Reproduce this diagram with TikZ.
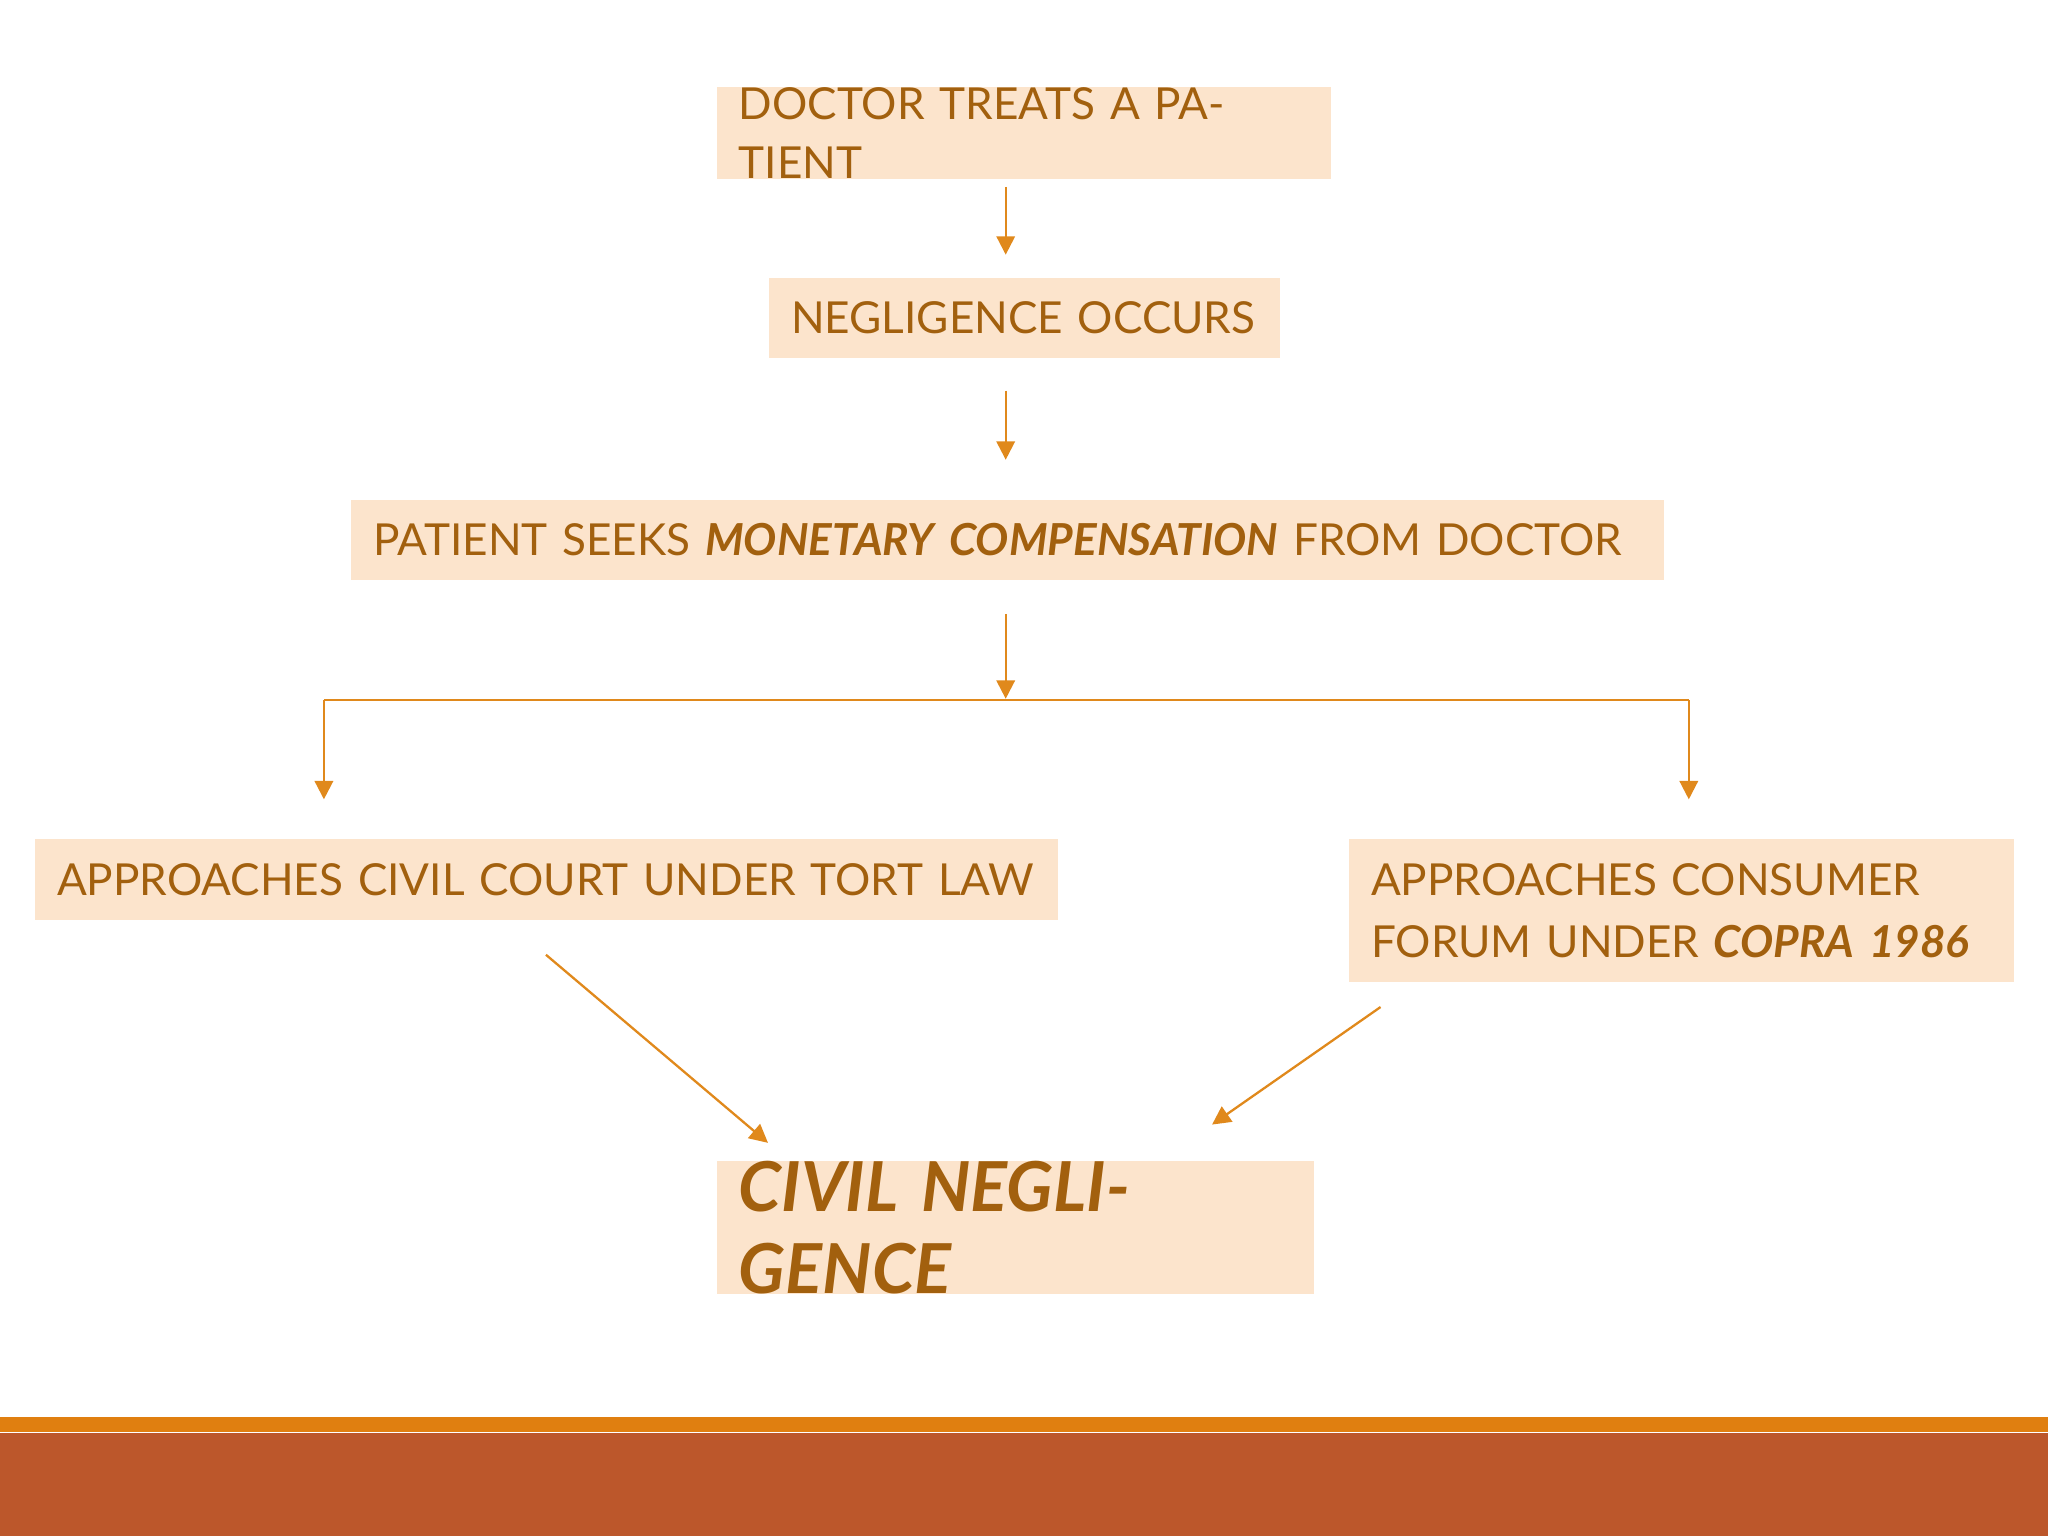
\documentclass[tikz,border=0pt]{standalone}
\usepackage{fontspec}
\setmainfont{Lato}
\usetikzlibrary{arrows.meta}
\definecolor{boxf}{HTML}{FCE4CC}
\definecolor{txt}{HTML}{A2600E}
\definecolor{arr}{HTML}{E0891C}
\definecolor{band}{HTML}{BC572B}
\definecolor{bandl}{HTML}{E07F10}
\begin{document}
\begin{tikzpicture}[x=0.01cm,y=-0.01cm,
  bx/.style={fill=boxf,text=txt,font=\fontsize{9.6}{13}\selectfont,inner xsep=0.17cm,inner ysep=0pt,align=left,anchor=north west},
  ar/.style={draw=arr,line width=0.5pt,-{Triangle[length=4pt,width=4pt]}}]
\useasboundingbox (0,0) rectangle (1568,1176);
\fill[bandl] (0,1085) rectangle (1568,1096);
\fill[band] (0,1097) rectangle (1568,1176);
\node[bx,minimum height=0.61cm,text width=4.36cm] (b1) at (548,66) {DOCTOR TREATS A PATIENT};
\node[bx,minimum height=0.61cm,text width=3.57cm] (b2) at (588,212) {NEGLIGENCE OCCURS};
\node[bx,minimum height=0.61cm,text width=9.71cm] (b3) at (268,382) {PATIENT SEEKS \textbf{\textit{MONETARY COMPENSATION}} FROM DOCTOR};
\node[bx,minimum height=0.62cm,text width=7.49cm] (b4) at (26,642) {APPROACHES CIVIL COURT UNDER TORT LAW};
\node[bx,minimum height=1.09cm,text width=4.75cm,font=\fontsize{9.6}{13.5}\selectfont] (b5) at (1032,642) {APPROACHES CONSUMER\\FORUM UNDER \textbf{\textit{COPRA 1986}}};
\node[bx,minimum height=0.78cm,text width=4.23cm,font=\fontsize{15}{18}\selectfont\bfseries\itshape] (b6) at (548,888) {CIVIL NEGLIGENCE};
\coordinate (a1) at (770,143); \coordinate (a1e) at (770,195);
\coordinate (a2) at (770,299); \coordinate (a2e) at (770,352);
\coordinate (a3) at (770,470); \coordinate (a3e) at (770,535);
\coordinate (hl) at (248,536); \coordinate (hr) at (1293,536);
\coordinate (dl) at (248,612); \coordinate (dr) at (1293,612);
\coordinate (g1) at (418,731); \coordinate (g1e) at (588,875);
\coordinate (g2) at (1057,771); \coordinate (g2e) at (928,861);
\draw[ar] (a1) -- (a1e);
\draw[ar] (a2) -- (a2e);
\draw[ar] (a3) -- (a3e);
\draw[draw=arr,line width=0.5pt] (hl) -- (hr);
\draw[ar] (hl) -- (dl);
\draw[ar] (hr) -- (dr);
\draw[ar] (g1) -- (g1e);
\draw[ar] (g2) -- (g2e);
\end{tikzpicture}
\end{document}
